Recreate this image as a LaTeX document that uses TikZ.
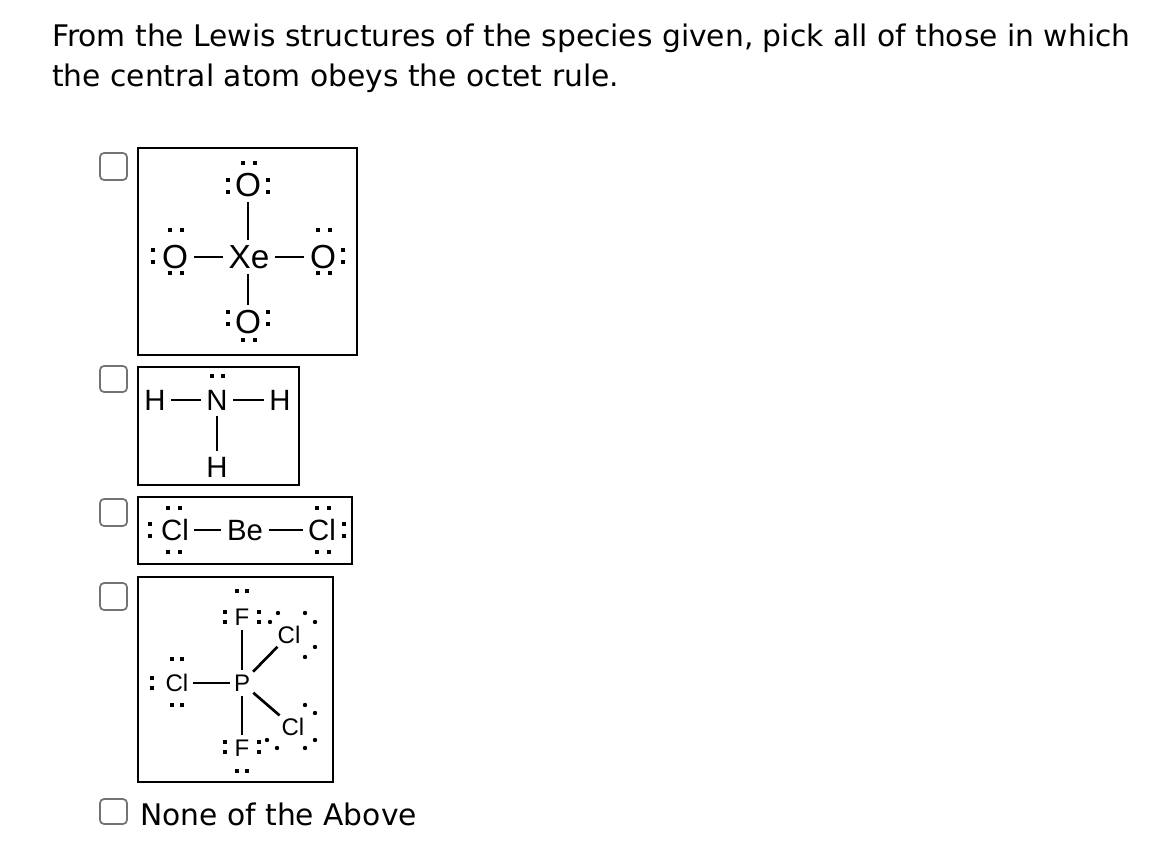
\documentclass[tikz,border=0pt]{standalone}
\usepackage{fontspec}
\setmainfont{DejaVu Sans}
\newfontfamily\atomfont{Liberation Sans}
\newcommand\dt[2]{\fill (#1-2.3,#2-2.3) rectangle (#1+2.3,#2+2.3);}
\newcommand\rd[2]{\fill (#1,#2) circle (2.2);}
\begin{document}
\begin{tikzpicture}[x=0.75pt,y=-0.75pt,
  cb/.style={draw=black!55,line width=1.3pt,rounded corners=3pt},
  frame/.style={draw,line width=2pt},
  bond/.style={line width=2pt,shorten <=4pt,shorten >=4pt},
  qtext/.style={anchor=base west,inner sep=0pt,font=\fontsize{22.3}{22.3}\selectfont},
  atl/.style={inner sep=0pt,text depth=0pt,font=\atomfont\fontsize{25}{25}\selectfont},
  atm/.style={inner sep=0pt,text depth=0pt,font=\atomfont\fontsize{22}{22}\selectfont},
  ats/.style={inner sep=0pt,text depth=0pt,font=\atomfont\fontsize{18}{18}\selectfont}]
\useasboundingbox (0,0) rectangle (1170,862);
\node[qtext] (q1) at (52,47) {From the Lewis structures of the species given, pick all of those in which};
\node[qtext] (q2) at (52,87) {the central atom obeys the octet rule.};
% checkboxes
\draw[cb] (100,153) rectangle (127,180);
\draw[cb] (100,366) rectangle (127,392);
\draw[cb] (100,499) rectangle (127,526);
\draw[cb] (100,583) rectangle (127,610);
\draw[cb] (100,799) rectangle (127,824);
\node[qtext] (none) at (140,825) {None of the Above};
% frames
\draw[frame] (138,148) rectangle (357,355);
\draw[frame] (138,367) rectangle (299,485);
\draw[frame] (138,497) rectangle (352,564);
\draw[frame] (138,577) rectangle (333,782);
% XeO4
\node[atl] (xe) at (249,257) {Xe};
\node[atl] (ot) at (248,185) {O};
\node[atl] (ob) at (248,322) {O};
\node[atl] (ol) at (175,257) {O};
\node[atl] (or) at (323,257) {O};
\draw[bond] (ot) -- (ot|-xe.north);
\draw[bond] (ob|-xe.south) -- (ob);
\draw[bond] (ol) -- (xe);
\draw[bond] (xe) -- (or);
\dt{243}{163}\dt{255}{163}\dt{228}{180}\dt{228}{192}\dt{268}{180}\dt{268}{192}
\dt{243}{340}\dt{255}{340}\dt{228}{312}\dt{228}{324}\dt{268}{312}\dt{268}{324}
\dt{170}{230}\dt{182}{230}\dt{170}{273}\dt{182}{273}\dt{153}{250}\dt{153}{262}
\dt{318}{230}\dt{330}{230}\dt{318}{273}\dt{330}{273}\dt{343}{250}\dt{343}{262}
% NH3
\node[atm] (n) at (217,400) {N};
\node[atm] (h1) at (155,400) {H};
\node[atm] (h2) at (280,400) {H};
\node[atm] (h3) at (217,467) {H};
\draw[bond] (h1) -- (n);
\draw[bond] (n) -- (h2);
\draw[bond] (n) -- (h3);
\dt{212}{376}\dt{223}{376}
% BeCl2
\node[atm] (be) at (245,530) {Be};
\node[atm] (c1) at (175,530) {Cl};
\node[atm] (c2) at (322,530) {Cl};
\draw[bond] (c1) -- (be);
\draw[bond] (be) -- (c2);
\dt{168}{508}\dt{180}{508}\dt{168}{552}\dt{180}{552}\dt{150}{524}\dt{150}{536}
\dt{317}{508}\dt{329}{508}\dt{317}{552}\dt{329}{552}\dt{344}{524}\dt{344}{536}
% PF2Cl3
\node[ats] (p) at (242,683) {P};
\node[ats] (ft) at (242,617) {F};
\node[ats] (fb) at (242,748) {F};
\node[ats] (cl) at (177,683) {Cl};
\node[ats] (cu) at (289,635) {Cl};
\node[ats] (cd) at (293,727) {Cl};
\draw[bond,shorten <=3pt,shorten >=3pt] (ft) -- (p);
\draw[bond,shorten <=3pt,shorten >=3pt] (p) -- (fb);
\draw[bond,shorten <=3pt,shorten >=3pt] (cl) -- (p);
\draw[bond,shorten <=3pt,shorten >=3pt] (p) -- (cu);
\draw[bond,shorten <=3pt,shorten >=3pt] (p) -- (cd);
\dt{237}{591}\dt{247}{591}\dt{225}{612}\dt{225}{622}\dt{259}{612}\dt{259}{622}
\dt{237}{771}\dt{247}{771}\dt{225}{742}\dt{225}{752}\dt{259}{742}\dt{259}{752}
\dt{172}{659}\dt{182}{659}\dt{172}{705}\dt{182}{705}\dt{152}{678}\dt{152}{688}
\rd{270}{622}\rd{278}{613}\rd{305}{613}\rd{315}{622}\rd{315}{647}\rd{305}{657}
\rd{267}{740}\rd{277}{748}\rd{305}{748}\rd{315}{740}\rd{315}{713}\rd{305}{705}
\end{tikzpicture}
\end{document}
